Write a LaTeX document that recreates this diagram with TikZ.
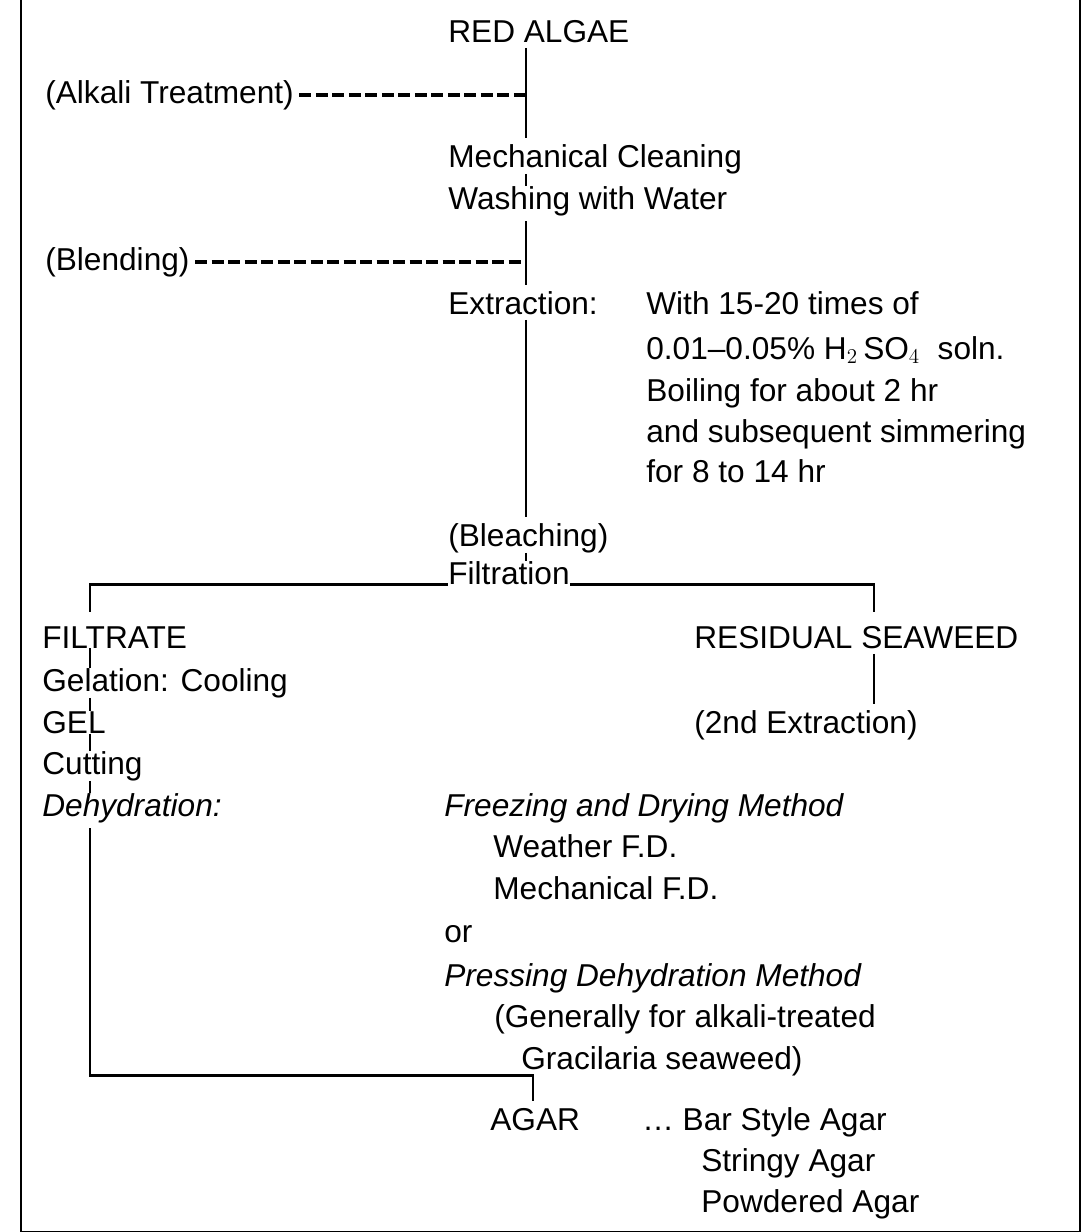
\documentclass[tikz,border=0pt]{standalone}
\usepackage{fontspec}
\setmainfont{Liberation Sans}
\begin{document}
\begin{tikzpicture}[x=0.02cm,y=-0.02cm,
  txt/.style={anchor=base west,inner sep=0pt,font=\fontsize{18}{20}\selectfont},
  itxt/.style={txt,font=\fontsize{18}{20}\selectfont\itshape},
  flow/.style={line width=1.7pt},
  side/.style={line width=2.6pt,dash pattern=on 0.24cm off 0.09cm}]
\useasboundingbox (0,0) rectangle (1084,1232);
\draw[line width=1.2pt] (21,0) -- (21,1232) -- (1080,1232) -- (1080,0);
% spine positions
\coordinate (spine) at (526,0);
\coordinate (lspine) at (90,0);
\coordinate (rspine) at (874,0);
\node[txt] (ra) at (448,42) {RED ALGAE};
\node[txt] (alk) at (45,103) {(Alkali Treatment)};
\node[txt] (mc) at (448,167) {Mechanical Cleaning};
\node[txt] (ww) at (448,209) {Washing with Water};
\node[txt] (bl) at (45,270) {(Blending)};
\node[txt] (ex) at (448,314) {Extraction:};
\node[txt] (w1) at (646,314) {With 15-20 times of};
\node[txt] (w2) at (646,359) {0.01--0.05\% H$_2$\,SO$_4$\ \ soln.};
\node[txt] (w3) at (646,401) {Boiling for about 2 hr};
\node[txt] (w4) at (646,442) {and subsequent simmering};
\node[txt] (w5) at (646,482) {for 8 to 14 hr};
\node[txt] (blc) at (448,546) {(Bleaching)};
\node[txt] (fil) at (448,584) {Filtration};
\node[txt] (ft) at (42,648) {FILTRATE};
\node[txt] (rs) at (694,648) {RESIDUAL SEAWEED};
\node[txt] (ge) at (42,691) {Gelation: Cooling};
\node[txt] (gel) at (42,733) {GEL};
\node[txt] (cu) at (42,774) {Cutting};
\node[itxt] (de) at (42,816) {Dehydration:};
\node[txt] (se) at (694,733) {(2nd Extraction)};
\node[itxt] (fd) at (444,816) {Freezing and Drying Method};
\node[txt] (wf) at (493,857) {Weather F.D.};
\node[txt] (mf) at (493,899) {Mechanical F.D.};
\node[txt] (or) at (444,942) {or};
\node[itxt] (pd) at (444,986) {Pressing Dehydration Method};
\node[txt] (ga) at (494,1027) {(Generally for alkali-treated};
\node[txt] (gr) at (521,1069) {Gracilaria seaweed)};
\node[txt] (ag) at (490,1130) {AGAR};
\node[txt] (bs) at (642,1130) {\dots\ Bar Style Agar};
\node[txt] (st) at (701,1171) {Stringy Agar};
\node[txt] (pw) at (701,1212) {Powdered Agar};
% main line
\draw[flow] ([yshift=-3pt]ra.south -| spine) -- ([yshift=3pt]mc.north -| spine);
\draw[flow] (mc.south -| spine) -- (ww.north -| spine);
\draw[flow] ([yshift=-3pt]ww.south -| spine) -- ([yshift=3pt]ex.north -| spine);
\draw[flow] ([yshift=-3pt]ex.south -| spine) -- ([yshift=3pt]blc.north -| spine);
\draw[flow] (blc.south -| spine) -- (fil.north -| spine);
\draw[side] ([xshift=3pt]alk.east) -- (alk.east -| spine);
\draw[side] ([xshift=3pt]bl.east) -- (bl.east -| spine);
% branches
\draw[flow] ([yshift=8pt]ft.north -| lspine) |- (fil.base west);
\draw[flow] (fil.base east) -| ([yshift=8pt]rs.north -| rspine);
\draw[flow] ([yshift=-3pt]rs.south -| rspine) -- ([yshift=3pt]se.north -| rspine);
\draw[flow] (ft.south -| lspine) -- (ge.north -| lspine);
\draw[flow] (ge.south -| lspine) -- (gel.north -| lspine);
\draw[flow] (gel.south -| lspine) -- (cu.north -| lspine);
\draw[flow] (cu.south -| lspine) -- (de.north -| lspine);
\coordinate (join) at (533,1075);
\draw[flow] ([yshift=-3pt]de.south -| lspine) |- (join) -- ([yshift=4pt]ag.north -| join);
\end{tikzpicture}
\end{document}
